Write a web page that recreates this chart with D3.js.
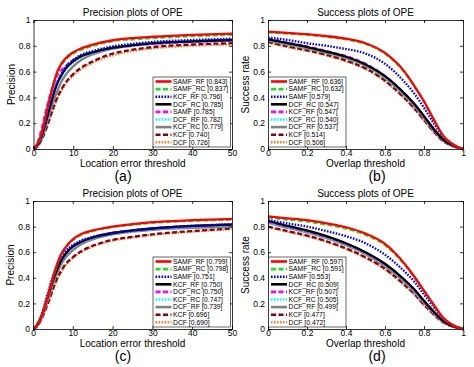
<!DOCTYPE html>
<html lang="en">
<head>
  <meta charset="UTF-8" />
  <title>OPE plots</title>
  <style>
    body { margin: 0; padding: 0; background: #fff; }
    svg { display: block; }
    text { font-family: "Liberation Sans", Arial, sans-serif; }
  </style>
</head>
<body>
  <svg id="chart"></svg>

  <script src="https://d3js.org/d3.v7.min.js"></script>
  <script>
    const W = 474, H = 367;

    // thresholds on the x axis
    const precX = [0, 1, 2, 3, 4, 5, 6, 7, 8, 10, 12, 15, 20, 25, 30, 40, 50];
    const succX = [0, 0.1, 0.2, 0.3, 0.4, 0.5, 0.6, 0.7, 0.75, 0.8, 0.85, 0.9, 0.95, 1];

    const precTicks = [0, 10, 20, 30, 40, 50];
    const succTicks = [0, 0.2, 0.4, 0.6, 0.8, 1];
    const yTicks = [0, 0.2, 0.4, 0.6, 0.8, 1];

    // (a) precision, first set
    const aNames = ["SAMF_RF", "SAMF_RC", "KCF_RF", "DCF_RC", "SAMF", "DCF_RF", "KCF_RC", "KCF", "DCF"];
    const aScores = ["0.843", "0.837", "0.796", "0.785", "0.785", "0.782", "0.779", "0.740", "0.726"];
    const aValues = [
      [0, 0.04, 0.12, 0.25, 0.38, 0.50, 0.60, 0.66, 0.70, 0.75, 0.78, 0.81, 0.843, 0.86, 0.87, 0.885, 0.895],
      [0, 0.04, 0.12, 0.25, 0.38, 0.50, 0.59, 0.65, 0.69, 0.74, 0.77, 0.80, 0.837, 0.85, 0.86, 0.875, 0.885],
      [0, 0.03, 0.10, 0.20, 0.32, 0.43, 0.52, 0.58, 0.63, 0.69, 0.73, 0.76, 0.796, 0.815, 0.83, 0.845, 0.855],
      [0, 0.03, 0.10, 0.20, 0.31, 0.42, 0.51, 0.57, 0.62, 0.68, 0.72, 0.75, 0.785, 0.805, 0.82, 0.835, 0.845],
      [0, 0.05, 0.15, 0.28, 0.40, 0.50, 0.57, 0.61, 0.64, 0.69, 0.72, 0.75, 0.785, 0.805, 0.815, 0.83, 0.84],
      [0, 0.03, 0.10, 0.20, 0.31, 0.42, 0.50, 0.56, 0.61, 0.67, 0.71, 0.745, 0.782, 0.80, 0.815, 0.83, 0.84],
      [0, 0.03, 0.08, 0.17, 0.27, 0.37, 0.45, 0.52, 0.57, 0.64, 0.69, 0.735, 0.779, 0.80, 0.815, 0.835, 0.845],
      [0, 0.02, 0.07, 0.14, 0.23, 0.32, 0.40, 0.46, 0.51, 0.58, 0.63, 0.68, 0.740, 0.77, 0.79, 0.81, 0.82],
      [0, 0.02, 0.07, 0.14, 0.22, 0.31, 0.39, 0.45, 0.50, 0.57, 0.62, 0.67, 0.726, 0.76, 0.78, 0.80, 0.81]
    ];

    // (b) success, first set
    const bNames = ["SAMF_RF", "SAMF_RC", "SAMF", "DCF_RC", "KCF_RF", "KCF_RC", "DCF_RF", "KCF", "DCF"];
    const bScores = ["0.636", "0.632", "0.579", "0.547", "0.547", "0.540", "0.537", "0.514", "0.506"];
    const bValues = [
      [0.91, 0.90, 0.89, 0.875, 0.855, 0.82, 0.745, 0.60, 0.49, 0.37, 0.23, 0.10, 0.035, 0],
      [0.905, 0.895, 0.885, 0.87, 0.85, 0.815, 0.74, 0.595, 0.485, 0.365, 0.225, 0.10, 0.035, 0],
      [0.865, 0.845, 0.82, 0.80, 0.775, 0.74, 0.66, 0.52, 0.43, 0.32, 0.20, 0.09, 0.03, 0],
      [0.85, 0.82, 0.79, 0.755, 0.715, 0.655, 0.565, 0.43, 0.35, 0.255, 0.155, 0.07, 0.025, 0],
      [0.855, 0.825, 0.795, 0.76, 0.72, 0.66, 0.565, 0.43, 0.345, 0.25, 0.15, 0.07, 0.025, 0],
      [0.845, 0.815, 0.785, 0.75, 0.71, 0.65, 0.555, 0.42, 0.34, 0.245, 0.15, 0.068, 0.025, 0],
      [0.84, 0.81, 0.78, 0.745, 0.705, 0.645, 0.55, 0.415, 0.335, 0.24, 0.145, 0.065, 0.024, 0],
      [0.83, 0.795, 0.765, 0.73, 0.685, 0.625, 0.53, 0.395, 0.315, 0.225, 0.135, 0.06, 0.022, 0],
      [0.825, 0.79, 0.76, 0.725, 0.68, 0.62, 0.525, 0.39, 0.31, 0.22, 0.13, 0.058, 0.02, 0]
    ];

    // (c) precision, second set
    const cNames = ["SAMF_RF", "SAMF_RC", "SAMF", "KCF_RF", "DCF_RC", "KCF_RC", "DCF_RF", "KCF", "DCF"];
    const cScores = ["0.799", "0.798", "0.751", "0.750", "0.750", "0.747", "0.739", "0.696", "0.690"];
    const cValues = [
      [0, 0.03, 0.09, 0.18, 0.29, 0.40, 0.50, 0.58, 0.63, 0.70, 0.74, 0.77, 0.799, 0.82, 0.835, 0.85, 0.86],
      [0, 0.03, 0.09, 0.18, 0.29, 0.40, 0.50, 0.58, 0.63, 0.695, 0.735, 0.765, 0.798, 0.815, 0.83, 0.845, 0.855],
      [0, 0.03, 0.10, 0.20, 0.31, 0.41, 0.49, 0.55, 0.60, 0.655, 0.69, 0.72, 0.751, 0.77, 0.785, 0.805, 0.82],
      [0, 0.03, 0.09, 0.18, 0.28, 0.38, 0.46, 0.53, 0.58, 0.645, 0.68, 0.715, 0.750, 0.77, 0.785, 0.805, 0.815],
      [0, 0.03, 0.09, 0.18, 0.28, 0.38, 0.46, 0.53, 0.58, 0.64, 0.68, 0.715, 0.750, 0.77, 0.785, 0.805, 0.815],
      [0, 0.03, 0.09, 0.18, 0.28, 0.38, 0.46, 0.52, 0.575, 0.635, 0.675, 0.71, 0.747, 0.765, 0.78, 0.80, 0.81],
      [0, 0.03, 0.08, 0.16, 0.25, 0.35, 0.43, 0.50, 0.55, 0.615, 0.66, 0.70, 0.739, 0.76, 0.775, 0.79, 0.80],
      [0, 0.02, 0.07, 0.14, 0.22, 0.31, 0.39, 0.45, 0.50, 0.56, 0.605, 0.65, 0.696, 0.72, 0.74, 0.765, 0.785],
      [0, 0.02, 0.07, 0.14, 0.22, 0.31, 0.38, 0.44, 0.49, 0.555, 0.60, 0.645, 0.690, 0.715, 0.735, 0.76, 0.78]
    ];

    // (d) success, second set
    const dNames = ["SAMF_RF", "SAMF_RC", "SAMF", "DCF_RC", "KCF_RF", "KCF_RC", "DCF_RF", "KCF", "DCF"];
    const dScores = ["0.597", "0.591", "0.553", "0.509", "0.507", "0.505", "0.499", "0.477", "0.472"];
    const dValues = [
      [0.88, 0.865, 0.85, 0.825, 0.795, 0.745, 0.665, 0.51, 0.41, 0.30, 0.19, 0.085, 0.03, 0],
      [0.87, 0.855, 0.84, 0.815, 0.785, 0.735, 0.655, 0.505, 0.405, 0.295, 0.185, 0.083, 0.03, 0],
      [0.85, 0.825, 0.80, 0.765, 0.725, 0.67, 0.58, 0.45, 0.37, 0.27, 0.17, 0.075, 0.027, 0],
      [0.845, 0.805, 0.77, 0.725, 0.67, 0.60, 0.51, 0.385, 0.31, 0.22, 0.135, 0.06, 0.022, 0],
      [0.84, 0.80, 0.765, 0.72, 0.665, 0.595, 0.505, 0.38, 0.305, 0.215, 0.13, 0.058, 0.021, 0],
      [0.835, 0.795, 0.76, 0.715, 0.66, 0.59, 0.50, 0.375, 0.30, 0.21, 0.128, 0.057, 0.021, 0],
      [0.83, 0.79, 0.755, 0.71, 0.655, 0.585, 0.49, 0.365, 0.29, 0.205, 0.125, 0.055, 0.02, 0],
      [0.80, 0.765, 0.73, 0.685, 0.63, 0.56, 0.47, 0.345, 0.275, 0.19, 0.115, 0.05, 0.018, 0],
      [0.795, 0.76, 0.725, 0.68, 0.625, 0.555, 0.465, 0.34, 0.27, 0.185, 0.11, 0.048, 0.017, 0]
    ];

    // style by rank (same in every panel)
    const rankColors = ["#ff0000", "#22dd22", "#0000ff", "#000000", "#ff00ff", "#00ffff", "#808080", "#880015", "#ff7f27"];
    const rankDash = [null, "5,2.5", "1.6,1.4", null, "5,2.5", "1.6,1.4", null, "5,2.5", "1.6,1.4"];

    const svg = d3.select("#chart")
      .attr("width", W)
      .attr("height", H)
      .attr("viewBox", `0 0 ${W} ${H}`);

    svg.append("rect").attr("width", W).attr("height", H).attr("fill", "#fff");

    const panels = [
      { id: "a", box: [33.5, 20, 232, 149], xs: precX, xDomain: [0, 50], xTicks: precTicks, values: aValues, names: aNames, scores: aScores,
        title: "Precision plots of OPE", xLabel: "Location error threshold", yLabel: "Precision", legend: "se" },
      { id: "b", box: [268, 20, 463, 149], xs: succX, xDomain: [0, 1], xTicks: succTicks, values: bValues, names: bNames, scores: bScores,
        title: "Success plots of OPE", xLabel: "Overlap threshold", yLabel: "Success rate", legend: "sw" },
      { id: "c", box: [33, 201, 232, 329], xs: precX, xDomain: [0, 50], xTicks: precTicks, values: cValues, names: cNames, scores: cScores,
        title: "Precision plots of OPE", xLabel: "Location error threshold", yLabel: "Precision", legend: "se" },
      { id: "d", box: [268, 201, 463, 329], xs: succX, xDomain: [0, 1], xTicks: succTicks, values: dValues, names: dNames, scores: dScores,
        title: "Success plots of OPE", xLabel: "Overlap threshold", yLabel: "Success rate", legend: "sw" }
    ];

    panels.forEach(p => {
      const [x0, y0, x1, y1] = p.box;
      const x = d3.scaleLinear().domain(p.xDomain).range([x0, x1]);
      const y = d3.scaleLinear().domain([0, 1]).range([y1, y0]);
      const g = svg.append("g");

      g.append("clipPath").attr("id", "clip-" + p.id)
        .append("rect").attr("x", x0).attr("y", y0 - 2).attr("width", x1 - x0).attr("height", y1 - y0 + 2);

      // curves, best drawn last
      const line = d3.line()
        .x((d, i) => x(p.xs[i]))
        .y(d => y(d))
        .curve(d3.curveMonotoneX);

      const order = d3.range(p.values.length).reverse();
      g.append("g").attr("clip-path", `url(#clip-${p.id})`)
        .selectAll("path")
        .data(order)
        .join("path")
        .attr("d", i => line(p.values[i]))
        .attr("fill", "none")
        .attr("stroke", i => rankColors[i])
        .attr("stroke-width", 2.3)
        .attr("stroke-dasharray", i => rankDash[i]);

      // axes with inward ticks on all sides
      const fmt = d => String(d);
      g.append("g").attr("transform", `translate(0,${y1})`)
        .call(d3.axisBottom(x).tickValues(p.xTicks).tickSize(-3).tickPadding(0.5).tickFormat(fmt));
      g.append("g").attr("transform", `translate(${x0},0)`)
        .call(d3.axisLeft(y).tickValues(yTicks).tickSize(-3).tickPadding(3).tickFormat(fmt));
      g.append("g").attr("transform", `translate(0,${y0})`)
        .call(d3.axisTop(x).tickValues(p.xTicks).tickSize(-3).tickFormat(""));
      g.append("g").attr("transform", `translate(${x1},0)`)
        .call(d3.axisRight(y).tickValues(yTicks).tickSize(-3).tickFormat(""));

      g.selectAll(".domain").attr("stroke", "#000").attr("stroke-width", 0.8);
      g.selectAll(".tick line").attr("stroke", "#000").attr("stroke-width", 0.8);
      g.selectAll(".tick text").attr("font-size", "8.5px").attr("fill", "#000")
        .attr("font-family", "'Liberation Sans', Arial, sans-serif");

      // titles and labels
      const cx = (x0 + x1) / 2;
      g.append("text").attr("x", cx).attr("y", y0 - 4)
        .attr("text-anchor", "middle").attr("font-size", "10px").text(p.title);
      g.append("text").attr("x", cx).attr("y", y1 + 17.5)
        .attr("text-anchor", "middle").attr("font-size", "10px").text(p.xLabel);
      g.append("text")
        .attr("transform", `translate(${x0 - 19},${(y0 + y1) / 2}) rotate(-90)`)
        .attr("text-anchor", "middle").attr("font-size", "10px").text(p.yLabel);
      g.append("text").attr("x", p.id === "a" || p.id === "c" ? 123 : 377).attr("y", y1 + 32)
        .attr("text-anchor", "middle").attr("font-size", "14px")
        .attr("font-family", "'Liberation Serif', 'Times New Roman', serif")
        .text(`(${p.id})`);

      // legend
      const lw = 77.5, lh = 70, rowH = 7.6;
      const lx = p.legend === "se" ? x1 - lw - 1.5 : x0 + 0.5;
      const ly = y1 - lh - 2;
      const lg = g.append("g").attr("transform", `translate(${lx},${ly})`);
      lg.append("rect").attr("width", lw).attr("height", lh)
        .attr("fill", "#fff").attr("stroke", "#000").attr("stroke-width", 0.6);
      p.names.forEach((name, i) => {
        const ry = 4 + rowH * i + 0.5;
        lg.append("line")
          .attr("x1", 2.5).attr("x2", 18.5).attr("y1", ry).attr("y2", ry)
          .attr("stroke", rankColors[i]).attr("stroke-width", 2.6)
          .attr("stroke-dasharray", rankDash[i]);
        lg.append("text").attr("x", 20).attr("y", ry + 2.3)
          .attr("font-size", "6.8px").attr("fill", "#000")
          .text(`${name} [${p.scores[i]}]`);
      });
    });
  </script>
</body>
</html>
